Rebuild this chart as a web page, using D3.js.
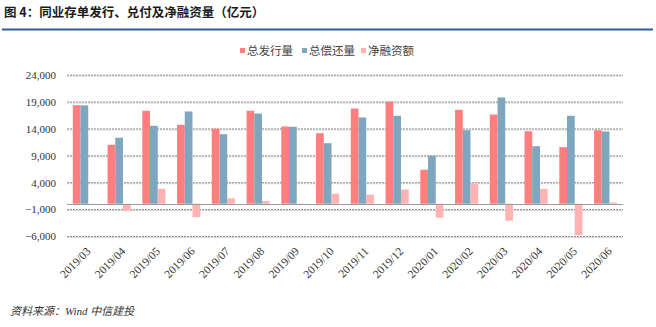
<!DOCTYPE html>
<html>
<head>
<meta charset="utf-8">
<script src="https://cdn.jsdelivr.net/npm/d3@7/dist/d3.min.js"></script>
<style>
  html, body { margin: 0; padding: 0; background: #fff; }
  svg { display: block; }
</style>
</head>
<body>
<svg id="chart" width="656" height="327"></svg>
<script>
// Monthly interbank CD issuance, repayment and net financing (100 million yuan)
const months = ["2019/03","2019/04","2019/05","2019/06","2019/07","2019/08","2019/09","2019/10",
                "2019/11","2019/12","2020/01","2020/02","2020/03","2020/04","2020/05","2020/06"];
const issuance  = [18330, 10970, 17290, 14680, 13940, 17290, 14370, 13120,
                   17710, 19000, 6320, 17470, 16600, 13490, 10520, 13680];
const repayment = [18300, 12270, 14500, 17160, 12940, 16780, 14310, 11260,
                   16040, 16360, 8920, 13680, 19760, 10710, 16360, 13440];
const netFinancing = [30, -1300, 2790, -2480, 1000, 500, 60, 1860,
                      1670, 2640, -2600, 3790, -3160, 2780, -5840, 240];
const seriesNames = ["总发行量", "总偿还量", "净融资额"];
const yTicks = [-6000, -1000, 4000, 9000, 14000, 19000, 24000];

const colors = ["#FF7F7F", "#7FA6BF", "#FFB3B3"];
const seriesValues = [issuance, repayment, netFinancing];

const svg = d3.select("#chart");
const plot = { left: 67, right: 623, top: 74.7, bottom: 236 };

// Title and rule beneath it
svg.append("text")
  .attr("x", 4).attr("y", 17)
  .attr("font-family", "'Noto Sans CJK SC', sans-serif")
  .attr("font-weight", "bold")
  .attr("font-size", 12.5)
  .attr("fill", "#1a1a1a")
  .text("图 4：同业存单发行、兑付及净融资量（亿元）");
svg.append("line")
  .attr("x1", 2).attr("x2", 653).attr("y1", 29.5).attr("y2", 29.5)
  .attr("stroke", "#2B5F93").attr("stroke-width", 2);

// Scales
const x = d3.scaleBand().domain(months).range([plot.left, plot.right]).paddingInner(0).paddingOuter(0);
const y = d3.scaleLinear().domain([-6000, 24000]).range([plot.bottom, plot.top]);
// Bars fill two thirds of each category slot
const groupW = x.bandwidth() / 1.5;
const xs = d3.scaleBand().domain(d3.range(3)).range([0, groupW]);

// Grid lines
const grid = svg.append("g");
yTicks.forEach(t => {
  grid.append("line")
    .attr("x1", plot.left).attr("x2", plot.right)
    .attr("y1", y(t) + 1.5).attr("y2", y(t) + 1.5)
    .attr("stroke", "#dcdcdc").attr("stroke-width", 1);
  grid.append("line")
    .attr("x1", plot.left).attr("x2", plot.right)
    .attr("y1", y(t) + 0.5).attr("y2", y(t) + 0.5)
    .attr("stroke", "#8a8a8a").attr("stroke-width", 1)
    .attr("stroke-dasharray", "2,1");
});

// Y axis labels
const yAxis = d3.axisLeft(y).tickValues(yTicks).tickSize(0).tickPadding(0)
  .tickFormat(d3.format(","));
const yg = svg.append("g").attr("transform", `translate(56,0)`).call(yAxis);
yg.select(".domain").remove();
yg.selectAll("text")
  .attr("font-family", "'Liberation Serif', 'DejaVu Serif', serif")
  .attr("font-size", 11)
  .attr("fill", "#333")
  .attr("dy", "0.35em");

// Bars
const groups = svg.append("g").selectAll("g")
  .data(months)
  .join("g")
  .attr("transform", d => `translate(${x(d) + (x.bandwidth() - groupW) / 2},0)`);

groups.selectAll("rect")
  .data((d, i) => seriesValues.map((s, k) => ({ k, v: s[i] })))
  .join("rect")
  .attr("x", d => xs(d.k))
  .attr("width", xs.bandwidth())
  .attr("y", d => y(Math.max(0, d.v)))
  .attr("height", d => Math.abs(y(d.v) - y(0)))
  .attr("fill", d => colors[d.k]);

// Zero line
svg.append("line")
  .attr("x1", plot.left).attr("x2", plot.right)
  .attr("y1", Math.round(y(0)) + 0.5).attr("y2", Math.round(y(0)) + 0.5)
  .attr("stroke", "#9a9a9a").attr("stroke-width", 1);

// X axis labels, rotated
const xAxis = d3.axisBottom(x).tickSize(0).tickPadding(0);
const xg = svg.append("g").attr("transform", `translate(0,${plot.bottom})`).call(xAxis);
xg.select(".domain").remove();
xg.selectAll("text")
  .attr("font-family", "'Liberation Serif', 'DejaVu Serif', serif")
  .attr("font-size", 11.5)
  .attr("fill", "#333")
  .attr("text-anchor", "end")
  .attr("dy", null)
  .attr("y", 0)
  .attr("transform", "translate(7,16) rotate(-45)");

// Legend
const legendX = [240, 302, 361];
const legend = svg.append("g");
seriesNames.forEach((name, k) => {
  legend.append("rect")
    .attr("x", legendX[k]).attr("y", 48)
    .attr("width", 5).attr("height", 5)
    .attr("fill", colors[k]);
  legend.append("text")
    .attr("x", legendX[k] + 7).attr("y", 55)
    .attr("font-family", "'Noto Sans CJK SC', sans-serif")
    .attr("font-size", 11.5)
    .attr("fill", "#444")
    .text(name);
});

// Source note
svg.append("text")
  .attr("x", 10).attr("y", 315)
  .attr("font-family", "'Liberation Serif', 'Noto Sans CJK SC', serif")
  .attr("font-style", "italic")
  .attr("font-size", 11)
  .attr("fill", "#333")
  .text("资料来源：Wind 中信建投");
</script>
</body>
</html>
